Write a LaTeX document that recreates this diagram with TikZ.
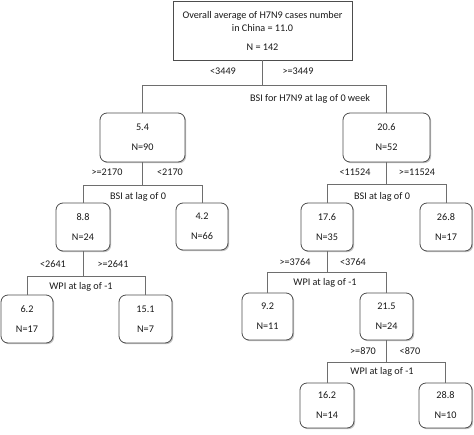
\documentclass[tikz,border=0pt]{standalone}
\usepackage{fontspec}
\setmainfont{Carlito}
\usetikzlibrary{shadows}
\definecolor{linec}{HTML}{6E6E6E}
\definecolor{boxc}{HTML}{4D4D4D}
\definecolor{txtc}{HTML}{1A1A1A}
\begin{document}
\begin{tikzpicture}[x=1pt,y=-1pt,
  every node/.style={text=txtc, font=\fontsize{10.2}{13}\selectfont},
  box/.style={draw=boxc, line width=0.8pt, rounded corners=7pt, fill=white, align=center, inner sep=0pt,
    drop shadow={shadow xshift=1.2pt, shadow yshift=-1.2pt, fill=black!40, opacity=0.6}},
  conn/.style={draw=linec, line width=0.8pt},
  cond/.style={inner sep=1pt}]
\useasboundingbox (0,0) rectangle (474,434);

% boxes
\node[box, rounded corners=0pt, minimum width=179pt, minimum height=59pt] (root) at (262.5,30.5)
  {Overall average of H7N9 cases number\\in China = 11.0\\[6pt]N = 142};
\node[box, minimum width=85pt, minimum height=49pt] (b54) at (142.5,137.5) {5.4\\[7pt]N=90};
\node[box, minimum width=87pt, minimum height=49pt] (b206) at (386.5,137.5) {20.6\\[7pt]N=52};
\node[box, minimum width=54pt, minimum height=48pt] (b88) at (83,227) {8.8\\[7pt]N=24};
\node[box, minimum width=52pt, minimum height=47pt] (b42) at (202,226.5) {4.2\\[7pt]N=66};
\node[box, minimum width=52pt, minimum height=48pt] (b176) at (327,227) {17.6\\[7pt]N=35};
\node[box, minimum width=52pt, minimum height=48pt] (b268) at (446,227) {26.8\\[7pt]N=17};
\node[box, minimum width=52pt, minimum height=48pt] (b62) at (27,319) {6.2\\[7pt]N=17};
\node[box, minimum width=53pt, minimum height=48pt] (b151) at (145.5,319) {15.1\\[7pt]N=7};
\node[box, minimum width=51pt, minimum height=47pt] (b92) at (267.5,316.5) {9.2\\[7pt]N=11};
\node[box, minimum width=53pt, minimum height=47pt] (b215) at (386.5,316.5) {21.5\\[7pt]N=24};
\node[box, minimum width=54pt, minimum height=45pt] (b162) at (327,405.5) {16.2\\[7pt]N=14};
\node[box, minimum width=53pt, minimum height=45pt] (b288) at (445.5,405.5) {28.8\\[7pt]N=10};

% bar levels
\coordinate (j0) at (0,85);
\coordinate (j1) at (0,185);
\coordinate (j2) at (0,184);
\coordinate (j3) at (0,276);
\coordinate (j4) at (0,272);
\coordinate (j5) at (0,362);

% connectors
\draw[conn] (root.south) |- (b54.north |- j0) -- (b54.north);
\draw[conn] (root.south) |- (b206.north |- j0) -- (b206.north);
\draw[conn] (b54.south) |- (b88.north |- j1) -- (b88.north);
\draw[conn] (b54.south) |- (b42.north |- j1) -- (b42.north);
\draw[conn] (b206.south) |- (b176.north |- j2) -- (b176.north);
\draw[conn] (b206.south) |- (b268.north |- j2) -- (b268.north);
\draw[conn] (b88.south) |- (b62.north |- j3) -- (b62.north);
\draw[conn] (b88.south) |- (b151.north |- j3) -- (b151.north);
\draw[conn] (b176.south) |- (b92.north |- j4) -- (b92.north);
\draw[conn] (b176.south) |- (b215.north |- j4) -- (b215.north);
\draw[conn] (b215.south) |- (b162.north |- j5) -- (b162.north);
\draw[conn] (b215.south) |- (b288.north |- j5) -- (b288.north);

% conditions and split variables
\node[cond] (c1a) at (223,71) {<3449};
\node[cond] (c1b) at (298,71) {>=3449};
\node[cond] (v1) at (310,99) {BSI for H7N9 at lag of 0 week};
\node[cond] (c2a) at (107,172) {>=2170};
\node[cond] (c2b) at (170,172) {<2170};
\node[cond] (v2) at (138,197) {BSI at lag of 0};
\node[cond] (c3a) at (355,172) {<11524};
\node[cond] (c3b) at (417,172) {>=11524};
\node[cond] (v3) at (382,197) {BSI at lag of 0};
\node[cond] (c4a) at (53,264) {<2641};
\node[cond] (c4b) at (113,264) {>=2641};
\node[cond] (v4) at (81,287) {WPI at lag of -1};
\node[cond] (c5a) at (295,262) {>=3764};
\node[cond] (c5b) at (353,262) {<3764};
\node[cond] (v5) at (325,283) {WPI at lag of -1};
\node[cond] (c6a) at (363,351) {>=870};
\node[cond] (c6b) at (410,351) {<870};
\node[cond] (v6) at (382,372) {WPI at lag of -1};
\end{tikzpicture}
\end{document}
